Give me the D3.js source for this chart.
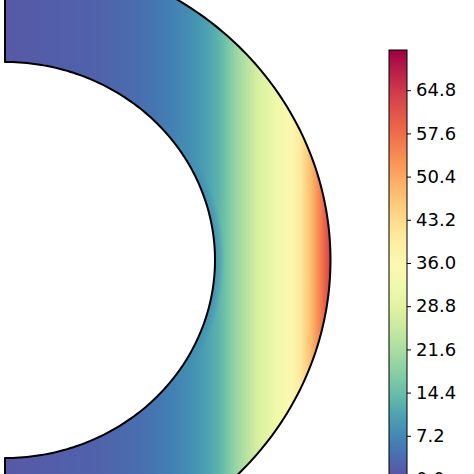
<!DOCTYPE html>
<html>
<head>
<meta charset="utf-8">
<script src="https://cdn.jsdelivr.net/npm/d3@7"></script>
<style>
  html, body { margin: 0; padding: 0; background: #fff; }
  svg { display: block; }
  text { font-family: "DejaVu Sans", sans-serif; }
</style>
</head>
<body>
<div id="chart"></div>
<script>
// annulus geometry (data units)
const innerRadius = 1.0;
const outerRadius = 1.55;

// field value read along the horizontal direction (x in data units)
const profileX = [0, 0.214, 0.452, 0.595, 0.69, 0.786, 0.881, 0.952, 1.01, 1.048, 1.105, 1.2, 1.295, 1.357, 1.405, 1.452, 1.5, 1.533, 1.552];
const profileV = [1.2, 1.8, 2.5, 3.5, 4.5, 6, 8, 10, 12.5, 15, 20, 27, 32, 36, 40, 47, 55, 61, 65];

// thin layer of low values along the inner wall
const wallValue = 8;
const wallLayer = 1.045;   // radius where the layer fades out

// colorbar
const colorMin = 0;
const colorMax = 71.5;
const tickValues = [0, 7.2, 14.4, 21.6, 28.8, 36.0, 43.2, 50.4, 57.6, 64.8];

const width = 474, height = 474;
const svg = d3.select('#chart').append('svg')
    .attr('width', width).attr('height', height);

const xScale = d3.scaleLinear().domain([0, 1]).range([5, 215]);
const yScale = d3.scaleLinear().domain([0, 1]).range([260, 62]);
const color = v => d3.interpolateSpectral(1 - (v - colorMin) / (colorMax - colorMin));

const defs = svg.append('defs');
const grad = defs.append('linearGradient').attr('id', 'field')
    .attr('gradientUnits', 'userSpaceOnUse')
    .attr('x1', xScale(0)).attr('x2', xScale(outerRadius))
    .attr('y1', 0).attr('y2', 0);
const span = xScale(outerRadius) - xScale(0);
profileX.forEach((x, i) => {
    grad.append('stop')
        .attr('offset', (xScale(x) - xScale(0)) / span)
        .attr('stop-color', color(profileV[i]));
});

// wall layer: elliptical radial gradient following the inner wall
const cx = xScale(0), cy = yScale(0);
const sy = (yScale(0) - yScale(1)) / (xScale(1) - xScale(0));
const wall = defs.append('radialGradient').attr('id', 'wall')
    .attr('gradientUnits', 'userSpaceOnUse')
    .attr('cx', cx).attr('cy', cy).attr('fx', cx).attr('fy', cy)
    .attr('r', xScale(wallLayer) - cx)
    .attr('gradientTransform', `translate(${cx},${cy}) scale(1,${sy}) translate(${-cx},${-cy})`);
wall.append('stop').attr('offset', 0).attr('stop-color', color(wallValue)).attr('stop-opacity', 0.9);
wall.append('stop').attr('offset', innerRadius / wallLayer).attr('stop-color', color(wallValue)).attr('stop-opacity', 0.9);
wall.append('stop').attr('offset', 1).attr('stop-color', color(wallValue)).attr('stop-opacity', 0);

// the layer only shows where the field is above the wall value
const maskGrad = defs.append('linearGradient').attr('id', 'wallMaskGrad')
    .attr('gradientUnits', 'userSpaceOnUse')
    .attr('x1', xScale(0.8)).attr('x2', xScale(0.95)).attr('y1', 0).attr('y2', 0);
maskGrad.append('stop').attr('offset', 0).attr('stop-color', '#000');
maskGrad.append('stop').attr('offset', 1).attr('stop-color', '#fff');
defs.append('mask').attr('id', 'wallMask')
    .attr('maskUnits', 'userSpaceOnUse')
    .attr('x', 0).attr('y', 0).attr('width', width).attr('height', height)
    .append('rect').attr('width', width).attr('height', height)
    .attr('fill', 'url(#wallMaskGrad)');

// half annulus outline
const angles = d3.range(-90, 90.01, 1).map(a => a * Math.PI / 180);
const arcPts = r => angles.map(a => [xScale(r * Math.cos(a)), yScale(r * Math.sin(a))]);
const outerPts = arcPts(outerRadius);
const innerPts = arcPts(innerRadius).reverse();
const shape = d3.line()(outerPts.concat(innerPts)) + 'Z';

svg.append('path').attr('d', shape).attr('fill', 'url(#field)');
svg.append('path').attr('d', shape).attr('fill', 'url(#wall)').attr('mask', 'url(#wallMask)');
svg.append('path').attr('d', shape)
    .attr('fill', 'none')
    .attr('stroke', '#000').attr('stroke-width', 2)
    .attr('stroke-linejoin', 'round');

// colorbar
const cbX = 389, cbW = 18;
const cbScale = d3.scaleLinear().domain([colorMin, colorMax]).range([479, 50]);
const cgrad = defs.append('linearGradient').attr('id', 'cbar')
    .attr('x1', 0).attr('x2', 0).attr('y1', 1).attr('y2', 0);
d3.range(0, 1.0001, 0.05).forEach(t => {
    cgrad.append('stop').attr('offset', t)
        .attr('stop-color', color(colorMin + t * (colorMax - colorMin)));
});
svg.append('rect')
    .attr('x', cbX).attr('y', cbScale(colorMax))
    .attr('width', cbW).attr('height', cbScale(colorMin) - cbScale(colorMax))
    .attr('fill', 'url(#cbar)')
    .attr('stroke', '#000').attr('stroke-width', 1);

const cbAxis = d3.axisRight(cbScale).tickValues(tickValues)
    .tickFormat(d3.format('.1f')).tickSize(4).tickPadding(5);
const ax = svg.append('g').attr('transform', `translate(${cbX + cbW},0)`).call(cbAxis);
ax.select('.domain').remove();
ax.selectAll('text').attr('font-size', 18).attr('fill', '#000')
    .attr('font-family', '"DejaVu Sans", sans-serif');
ax.selectAll('line').attr('stroke', '#000');
</script>
</body>
</html>
